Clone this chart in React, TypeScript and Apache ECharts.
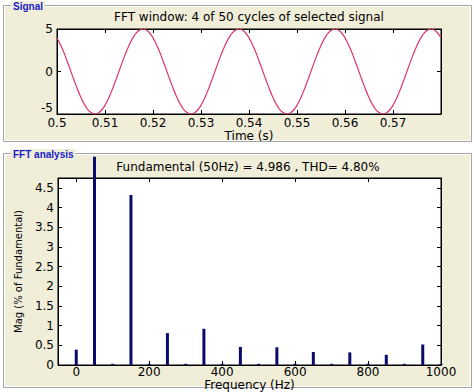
import React, { useEffect, useRef } from "react";
import * as echarts from "echarts";

// ---- Signal panel data ----
const signalStart = 0.5;
const signalStep = 0.001;
const signalValues = [
  3.95, 2.81, 1.39, -0.16, -1.69, -3.06, -4.14, -4.8, -5.0, -4.7,
  -3.95, -2.81, -1.39, 0.16, 1.69, 3.06, 4.14, 4.8, 5.0, 4.7,
  3.95, 2.81, 1.39, -0.16, -1.69, -3.06, -4.14, -4.8, -5.0, -4.7,
  -3.95, -2.81, -1.39, 0.16, 1.69, 3.06, 4.14, 4.8, 5.0, 4.7,
  3.95, 2.81, 1.39, -0.16, -1.69, -3.06, -4.14, -4.8, -5.0, -4.7,
  -3.95, -2.81, -1.39, 0.16, 1.69, 3.06, 4.14, 4.8, 5.0, 4.7,
  3.95, 2.81, 1.39, -0.16, -1.69, -3.06, -4.14, -4.8, -5.0, -4.7,
  -3.95, -2.81, -1.39, 0.16, 1.69, 3.06, 4.14, 4.8, 5.0, 4.7,
  3.95,
];
const timeTicks = [0.5, 0.51, 0.52, 0.53, 0.54, 0.55, 0.56, 0.57];
const signalTicks = [-5, 0, 5];

// ---- FFT panel data ----
const harmonicFreqs = [0, 50, 150, 250, 350, 450, 550, 650, 750, 850, 950];
const harmonicMags = [0.39, 5.29, 4.32, 0.81, 0.92, 0.46, 0.45, 0.33, 0.32, 0.26, 0.52];
const evenFreqs = [100, 200, 300, 400, 500, 600, 700, 800, 900, 1000];
const evenMags = [0.03, 0.03, 0.03, 0.03, 0.03, 0.03, 0.03, 0.03, 0.03, 0.03];
const freqTicks = [0, 200, 400, 600, 800, 1000];
const magTicks = [0, 0.5, 1, 1.5, 2, 2.5, 3, 3.5, 4, 4.5];

const FONT = "DejaVu Sans";
const PANEL_BG = "#F0EED9";

export default function App() {
  const ref = useRef<HTMLDivElement>(null);

  useEffect(() => {
    if (!ref.current) return;
    const chart = echarts.init(ref.current, undefined, { renderer: "svg" });

    const signalData = signalValues.map((v, i) => [
      +(signalStart + i * signalStep).toFixed(3),
      v,
    ]);
    const fftData = harmonicFreqs
      .map((f, i) => [f, harmonicMags[i]])
      .concat(evenFreqs.map((f, i) => [f, evenMags[i]]))
      .sort((a, b) => a[0] - b[0]);

    const tickStyle = { color: "#000", fontFamily: FONT, fontSize: 12 };
    const axisLine = { show: true, onZero: false, lineStyle: { color: "#000", width: 1 } };

    const mkAxis = (
      extra: any,
      ticks: number[],
      showLabel: boolean,
      fmt?: (v: number) => string,
      margin = 4,
      labelExtra: any = {}
    ) => ({
      type: "value",
      axisLine,
      splitLine: { show: false },
      axisTick: {
        show: true,
        inside: true,
        length: 4,
        customValues: ticks,
        lineStyle: { color: "#000" },
      },
      axisLabel: {
        show: showLabel,
        customValues: ticks,
        margin,
        ...tickStyle,
        formatter: fmt,
        ...labelExtra,
      },
      ...extra,
    });

    const option: any = {
      animation: false,
      backgroundColor: "#ffffff",
      textStyle: { fontFamily: FONT },
      graphic: [
        {
          type: "rect",
          z: -10,
          shape: { x: 3.5, y: 5.5, width: 468, height: 136 },
          style: { fill: PANEL_BG, stroke: "#a3a3a3", lineWidth: 1 },
        },
        {
          type: "rect",
          z: -9,
          shape: { x: 4.5, y: 6.5, width: 466, height: 134 },
          style: { fill: "none", stroke: "#ffffff", lineWidth: 1 },
        },
        {
          type: "rect",
          z: -10,
          shape: { x: 3.5, y: 153.5, width: 468, height: 234 },
          style: { fill: PANEL_BG, stroke: "#a3a3a3", lineWidth: 1 },
        },
        {
          type: "rect",
          z: -9,
          shape: { x: 4.5, y: 154.5, width: 466, height: 232 },
          style: { fill: "none", stroke: "#ffffff", lineWidth: 1 },
        },
        {
          type: "text",
          z: 10,
          x: 11,
          y: 6,
          style: {
            text: "Signal",
            fill: "#1a1acc",
            font: "bold 10px 'Liberation Sans'",
            verticalAlign: "middle",
            backgroundColor: PANEL_BG,
            padding: [0, 2],
          },
        },
        {
          type: "text",
          z: 10,
          x: 11,
          y: 154,
          style: {
            text: "FFT analysis",
            fill: "#1a1acc",
            font: "bold 10px 'Liberation Sans'",
            verticalAlign: "middle",
            backgroundColor: PANEL_BG,
            padding: [0, 2],
          },
        },
        {
          type: "text",
          z: 10,
          x: 249,
          y: 17,
          style: {
            text: "FFT window: 4 of 50 cycles of selected signal",
            fill: "#000",
            font: `12px '${FONT}'`,
            textAlign: "center",
            verticalAlign: "middle",
          },
        },
        {
          type: "text",
          z: 10,
          x: 248,
          y: 167,
          style: {
            text: "Fundamental (50Hz) = 4.986 , THD= 4.80%",
            fill: "#000",
            font: `12px '${FONT}'`,
            textAlign: "center",
            verticalAlign: "middle",
          },
        },
      ],
      grid: [
        {
          left: 57,
          top: 29,
          width: 384,
          height: 85,
          show: true,
          backgroundColor: "#ffffff",
          borderColor: "#000",
          borderWidth: 1,
          containLabel: false,
          outerBoundsMode: "none",
        },
        {
          left: 58,
          top: 178,
          width: 383,
          height: 187,
          show: true,
          backgroundColor: "#ffffff",
          borderColor: "#000",
          borderWidth: 1,
          containLabel: false,
          outerBoundsMode: "none",
        },
      ],
      xAxis: [
        mkAxis(
          {
            gridIndex: 0,
            position: "bottom",
            min: 0.5,
            max: 0.58,
            name: "Time (s)",
            nameLocation: "middle",
            nameGap: 15,
            nameTextStyle: { color: "#000", fontFamily: FONT, fontSize: 12 },
          },
          timeTicks,
          true,
          (v: number) => String(+v.toFixed(2)),
          3
        ),
        mkAxis({ gridIndex: 0, position: "top", min: 0.5, max: 0.58 }, timeTicks, false),
        mkAxis(
          {
            gridIndex: 1,
            position: "bottom",
            min: -50,
            max: 1000,
            name: "Frequency (Hz)",
            nameLocation: "middle",
            nameGap: 11,
            nameTextStyle: { color: "#000", fontFamily: FONT, fontSize: 12 },
          },
          freqTicks,
          true,
          (v: number) => String(v),
          1
        ),
        mkAxis({ gridIndex: 1, position: "top", min: -50, max: 1000 }, freqTicks, false),
      ],
      yAxis: [
        mkAxis(
          { gridIndex: 0, position: "left", min: -5, max: 5 },
          signalTicks,
          true,
          (v: number) => String(v),
          4,
          { verticalAlignMinLabel: "bottom" }
        ),
        mkAxis({ gridIndex: 0, position: "right", min: -5, max: 5 }, signalTicks, false),
        mkAxis(
          {
            gridIndex: 1,
            position: "left",
            min: 0,
            max: 4.75,
            name: "Mag (% of Fundamental)",
            nameLocation: "middle",
            nameGap: 35,
            nameTextStyle: { color: "#000", fontFamily: FONT, fontSize: 10 },
          },
          magTicks,
          true,
          (v: number) => String(v),
          4
        ),
        mkAxis({ gridIndex: 1, position: "right", min: 0, max: 4.75 }, magTicks, false),
      ],
      series: [
        {
          type: "line",
          xAxisIndex: 0,
          yAxisIndex: 0,
          data: signalData,
          smooth: true,
          showSymbol: false,
          symbol: "none",
          lineStyle: { color: "#dd3366", width: 1.2 },
          clip: true,
        },
        {
          type: "bar",
          xAxisIndex: 2,
          yAxisIndex: 2,
          data: fftData,
          barWidth: 3,
          clip: false,
          itemStyle: { color: "#0b0b6b" },
        },
      ],
    };

    chart.setOption(option);
    return () => chart.dispose();
  }, []);

  return (
    <div
      ref={ref}
      style={{ position: "fixed", left: 0, top: 0, width: 474, height: 392 }}
    />
  );
}
